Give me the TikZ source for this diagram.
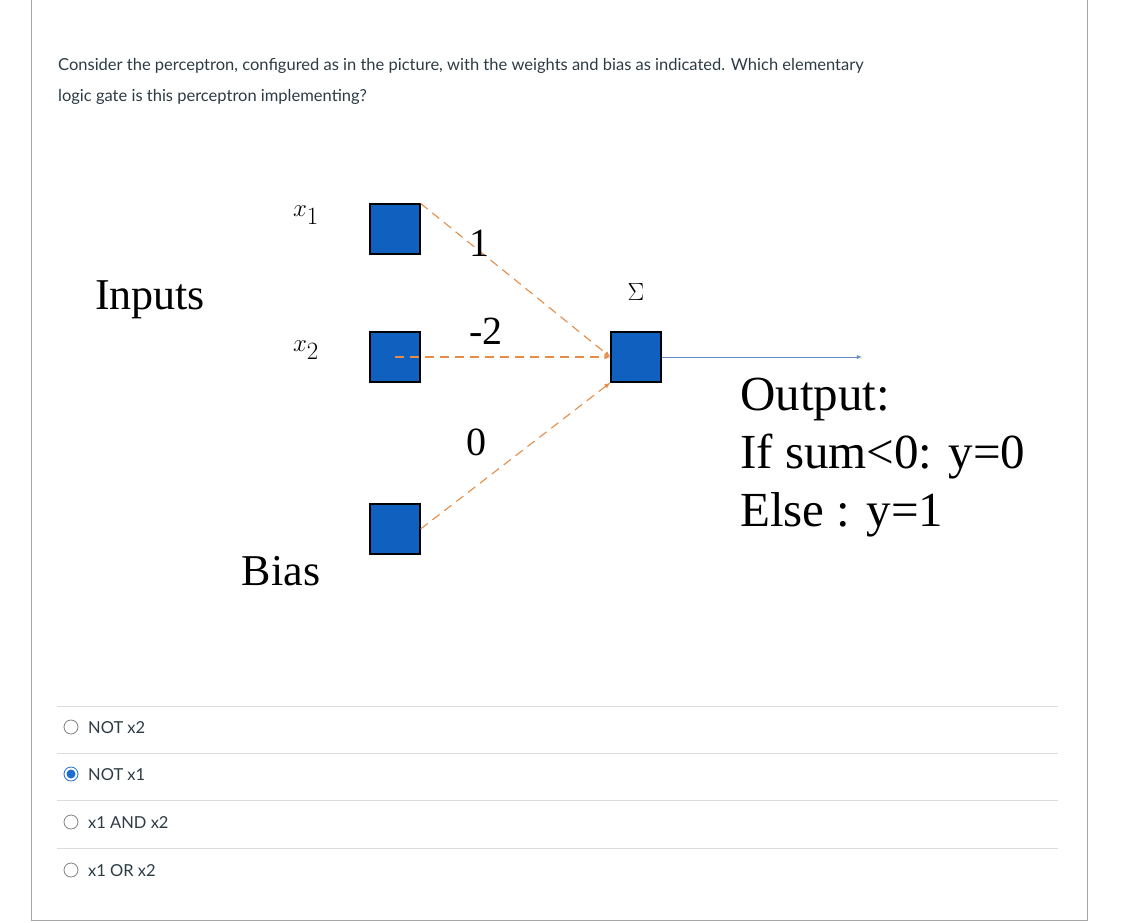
\documentclass[tikz,border=0pt]{standalone}
\usepackage{fontspec}
\setmainfont{Liberation Serif}
\newfontfamily\lato{Lato}
\definecolor{sqblue}{RGB}{16,96,192}
\definecolor{worange}{RGB}{230,140,70}
\definecolor{outblue}{RGB}{100,140,200}
\definecolor{uitext}{RGB}{45,59,69}
\definecolor{sepgray}{RGB}{220,220,220}
\definecolor{radblue}{RGB}{30,110,210}
\begin{document}
\begin{tikzpicture}[x=1pt,y=-1pt,
  sq/.style={draw=black,fill=sqblue,minimum size=50pt,inner sep=0pt,line width=1.2pt},
  wt/.style={draw=worange,dash pattern=on 9pt off 6pt,line width=1.1pt,-latex},
  ui/.style={font=\lato\fontsize{16.5}{20}\selectfont,text=uitext,anchor=base west,inner sep=0pt},
  sep/.style={draw=sepgray,line width=0.8pt},
  radio/.style={draw=gray,line width=0.8pt,circle,minimum size=14pt,inner sep=0pt}]
\useasboundingbox (0,0) rectangle (1130,922);
\fill[white] (0,0) rectangle (1130,922);
\draw[gray!70,line width=0.8pt] (31,0) -- (31,920) -- (1087,920) -- (1087,0);
\node[ui] (q1) at (58,70) {Consider the perceptron, configured as in the picture, with the weights and bias as indicated. Which elementary};
\node[ui] (q2) at (58,101) {logic gate is this perceptron implementing?};
% diagram
\node[sq] (s1) at (395,229) {};
\node[sq] (s2) at (395,357) {};
\node[sq] (sb) at (395,529) {};
\node[sq] (sig) at (636,357) {};
\node[font=\fontsize{44}{50}\selectfont] (inputs) at (150,300) {Inputs};
\node[font=\fontsize{46}{50}\selectfont] (lx1) at (306,215) {$x_1$};
\node[font=\fontsize{46}{50}\selectfont] (lx2) at (306,350) {$x_2$};
\node[font=\fontsize{44}{50}\selectfont] (lb) at (281,571) {Bias};
\node[font=\fontsize{36}{40}\selectfont] (lsig) at (636,292) {$\Sigma$};
\draw[wt] (s1.north east) -- (sig.west);
\draw[wt] (s2.center) -- (sig.west);
\draw[wt] (sb.east) -- (sig.south west);
\node[font=\fontsize{40}{44}\selectfont] (w1) at (479,243) {1};
\node[font=\fontsize{40}{44}\selectfont] (w2) at (486,331) {-2};
\node[font=\fontsize{40}{44}\selectfont] (w0) at (476,442) {0};
\coordinate (out) at (862,357);
\draw[outblue,line width=0.8pt,-latex] (sig.east) -- (out);
\node[font=\fontsize{49}{58}\selectfont,align=left,anchor=north west,inner sep=0pt] (outtxt) at (740,378) {Output:\\If sum{<}0: y=0\\Else : y=1};
% options
\draw[sep] (57,706) -- (1058,706);
\draw[sep] (57,753) -- (1058,753);
\draw[sep] (57,800) -- (1058,800);
\draw[sep] (57,848) -- (1058,848);
\node[radio] (r1) at (71,727) {};
\node[radio,draw=radblue] (r2) at (71,774) {};
\fill[radblue] (r2.center) circle (4.5pt);
\node[radio] (r3) at (71,822) {};
\node[radio] (r4) at (71,870) {};
\node[ui] (o1) at (88,733) {NOT x2};
\node[ui] (o2) at (88,780) {NOT x1};
\node[ui] (o3) at (88,828) {x1 AND x2};
\node[ui] (o4) at (88,876) {x1 OR x2};
\end{tikzpicture}
\end{document}
